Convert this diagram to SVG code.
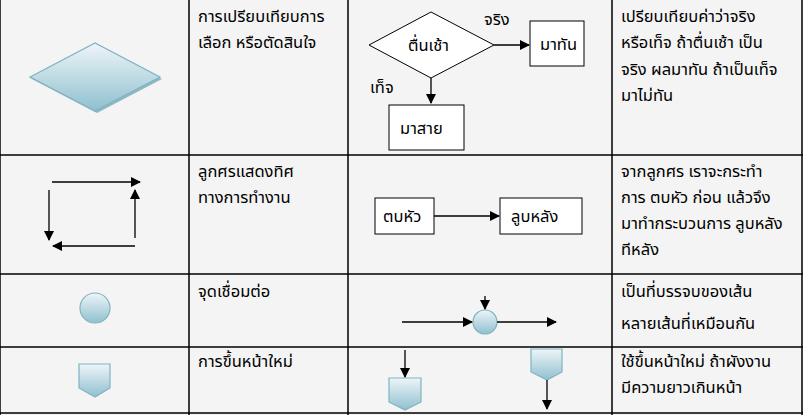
<svg xmlns="http://www.w3.org/2000/svg" width="803" height="415" viewBox="0 0 803 415">
<style>
.t{font-family:"Noto Sans Thai","Noto Sans","DejaVu Sans",sans-serif;font-size:16.5px;fill:#000}
.g{stroke:#000;stroke-width:1.5;fill:none}
.c{stroke:#000;stroke-width:1.3;fill:none}
.s{fill:url(#gr);stroke:#7fb3c2;stroke-width:1.2}
.b{fill:#fff;stroke:#000;stroke-width:1}
</style>
<defs>
<linearGradient id="gr" x1="0" y1="0" x2="0" y2="1"><stop offset="0" stop-color="#eef5f8"/><stop offset="1" stop-color="#8fc0cf"/></linearGradient>
<marker id="a" markerWidth="10" markerHeight="10" refX="9" refY="5" orient="auto" markerUnits="userSpaceOnUse"><path d="M0,0L10,5L0,10z" fill="#000"/></marker>
</defs>
<rect width="803" height="415" fill="#f4f4f4"/>
<g id="grid" class="g">
<line x1="0" y1="0" x2="0" y2="415"/><line x1="189" y1="0" x2="189" y2="415"/><line x1="348" y1="0" x2="348" y2="415"/><line x1="612" y1="0" x2="612" y2="415"/><line x1="802" y1="0" x2="802" y2="415"/>
<line x1="0" y1="155" x2="803" y2="155"/><line x1="0" y1="274" x2="803" y2="274"/><line x1="0" y1="347" x2="803" y2="347"/><line x1="0" y1="413" x2="803" y2="413"/>
</g>
<g id="sym-decision"><polygon points="30,78 95,43 162,79 97,113" fill="#8fb8c4"/><polygon points="30,77 95,43 160,77 95,111" class="s"/></g>
<g id="sym-arrows" class="c">
<line x1="52" y1="182" x2="140" y2="182" marker-end="url(#a)"/>
<line x1="135" y1="238" x2="135" y2="190" marker-end="url(#a)"/>
<line x1="135" y1="246" x2="53" y2="246" marker-end="url(#a)"/>
<line x1="49" y1="190" x2="49" y2="240" marker-end="url(#a)"/>
</g>
<g id="sym-connector"><circle cx="95" cy="308" r="15" class="s"/></g>
<g id="sym-page"><path d="M79,364H110V388L95,397L79,388Z" class="s"/></g>
<g id="desc" class="t">
<text x="198" y="22">การเปรียบเทียบการ</text><text x="198" y="48">เลือก หรือตัดสินใจ</text>
<text x="198" y="177">ลูกศรแสดงทิศ</text><text x="198" y="203">ทางการทำงาน</text>
<text x="198" y="297">จุดเชื่อมต่อ</text>
<text x="198" y="367">การขึ้นหน้าใหม่</text>
<text x="621" y="22">เปรียบเทียบค่าว่าจริง</text><text x="621" y="48">หรือเท็จ ถ้าตื่นเช้า เป็น</text><text x="621" y="75">จริง ผลมาทัน ถ้าเป็นเท็จ</text><text x="621" y="101">มาไม่ทัน</text>
<text x="621" y="177">จากลูกศร เราจะกระทำ</text><text x="621" y="203">การ ตบหัว ก่อน แล้วจึง</text><text x="621" y="229">มาทำกระบวนการ ลูบหลัง</text><text x="621" y="255">ทีหลัง</text>
<text x="621" y="297">เป็นที่บรรจบของเส้น</text><text x="621" y="329">หลายเส้นที่เหมือนกัน</text>
<text x="621" y="367">ใช้ขึ้นหน้าใหม่ ถ้าผังงาน</text><text x="621" y="393">มีความยาวเกินหน้า</text>
</g>
<g id="ex1">
<polygon points="369,45 431,12 494,45 431,78" class="b"/>
<rect x="530" y="21" width="54" height="45" class="b"/>
<rect x="389" y="105" width="75" height="45" class="b"/>
<text class="t" x="408" y="51">ตื่นเช้า</text><text class="t" x="540" y="50">มาทัน</text><text class="t" x="400" y="134">มาสาย</text>
<text class="t" x="484" y="25">จริง</text><text class="t" x="370" y="93">เท็จ</text>
</g>
<g id="ex2">
<rect x="375" y="198" width="59" height="36" class="b"/><rect x="500" y="198" width="82" height="36" class="b"/>
<text class="t" x="383" y="222">ตบหัว</text><text class="t" x="511" y="222">ลูบหลัง</text>
</g>
<g id="ex3"><circle cx="485" cy="322" r="12" class="s"/></g>
<g id="ex4"><path d="M389,378H421V402L405,410L389,402Z" class="s"/><path d="M531,349H562V372L547,380L531,372Z" class="s"/></g>
<g id="connectors" class="c">
<line x1="494" y1="45" x2="529" y2="45" marker-end="url(#a)"/>
<path d="M431,78V103" marker-end="url(#a)"/>
<line x1="434" y1="216" x2="499" y2="216" marker-end="url(#a)"/>
<line x1="402" y1="322" x2="472" y2="322" marker-end="url(#a)"/>
<line x1="497" y1="322" x2="556" y2="322" marker-end="url(#a)"/>
<line x1="485" y1="296" x2="485" y2="309" marker-end="url(#a)"/>
<line x1="405" y1="350" x2="405" y2="377" marker-end="url(#a)"/>
<line x1="547" y1="380" x2="547" y2="409" marker-end="url(#a)"/>
</g>
</svg>
